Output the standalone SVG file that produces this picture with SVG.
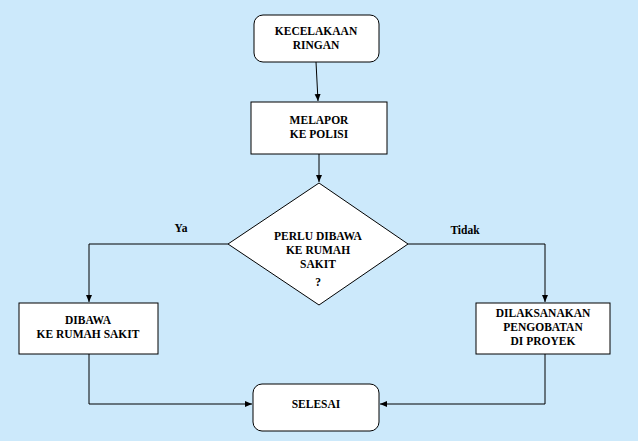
<svg xmlns="http://www.w3.org/2000/svg" width="638" height="441" viewBox="0 0 638 441">
<style>
.n{fill:#fff;stroke:#000;stroke-width:1}
.t{font-family:'Liberation Serif','Times New Roman','DejaVu Serif',serif;font-weight:bold;font-size:11.5px;text-anchor:middle}
.c{fill:none;stroke:#000;stroke-width:1;marker-end:url(#a)}
</style>
<defs><marker id="a" markerWidth="8" markerHeight="8" refX="7" refY="4" orient="auto" markerUnits="userSpaceOnUse"><path d="M0,1 L7,4 L0,7 Z" fill="#000"/></marker></defs>
<rect width="638" height="441" fill="#cce9fb"/>
<g id="connectors">
<path class="c" d="M316,62 L318,101"/>
<path class="c" d="M319,154 L319,182"/>
<path class="c" d="M228,244 L89,244 L89,302"/>
<path class="c" d="M408,244 L545,244 L545,302"/>
<path class="c" d="M89,354 L89,404 L252,404"/>
<path class="c" d="M545,354 L545,404 L380,404"/>
<text class="t" x="181" y="232">Ya</text>
<text class="t" x="465" y="234">Tidak</text>
</g>
<g id="start"><rect class="n" x="254" y="15" width="125" height="47" rx="9"/><text class="t" x="316" y="35">KECELAKAAN</text><text class="t" x="316" y="49">RINGAN</text></g>
<g id="lapor"><rect class="n" x="251" y="102" width="136" height="52"/><text class="t" x="319" y="124">MELAPOR</text><text class="t" x="319" y="138">KE POLISI</text></g>
<g id="decision"><polygon class="n" points="319,183 408,244 319,305 228,244"/><text class="t" x="318" y="240">PERLU DIBAWA</text><text class="t" x="318" y="254">KE RUMAH</text><text class="t" x="318" y="268">SAKIT</text><text class="t" x="318" y="286">?</text></g>
<g id="dibawa"><rect class="n" x="19" y="303" width="139" height="51"/><text class="t" x="88" y="324">DIBAWA</text><text class="t" x="88" y="338">KE RUMAH SAKIT</text></g>
<g id="proyek"><rect class="n" x="476" y="303" width="134" height="51"/><text class="t" x="543" y="317">DILAKSANAKAN</text><text class="t" x="543" y="331">PENGOBATAN</text><text class="t" x="543" y="345">DI PROYEK</text></g>
<g id="selesai"><rect class="n" x="253" y="384" width="126" height="47" rx="9"/><text class="t" x="316" y="408">SELESAI</text></g>
</svg>
